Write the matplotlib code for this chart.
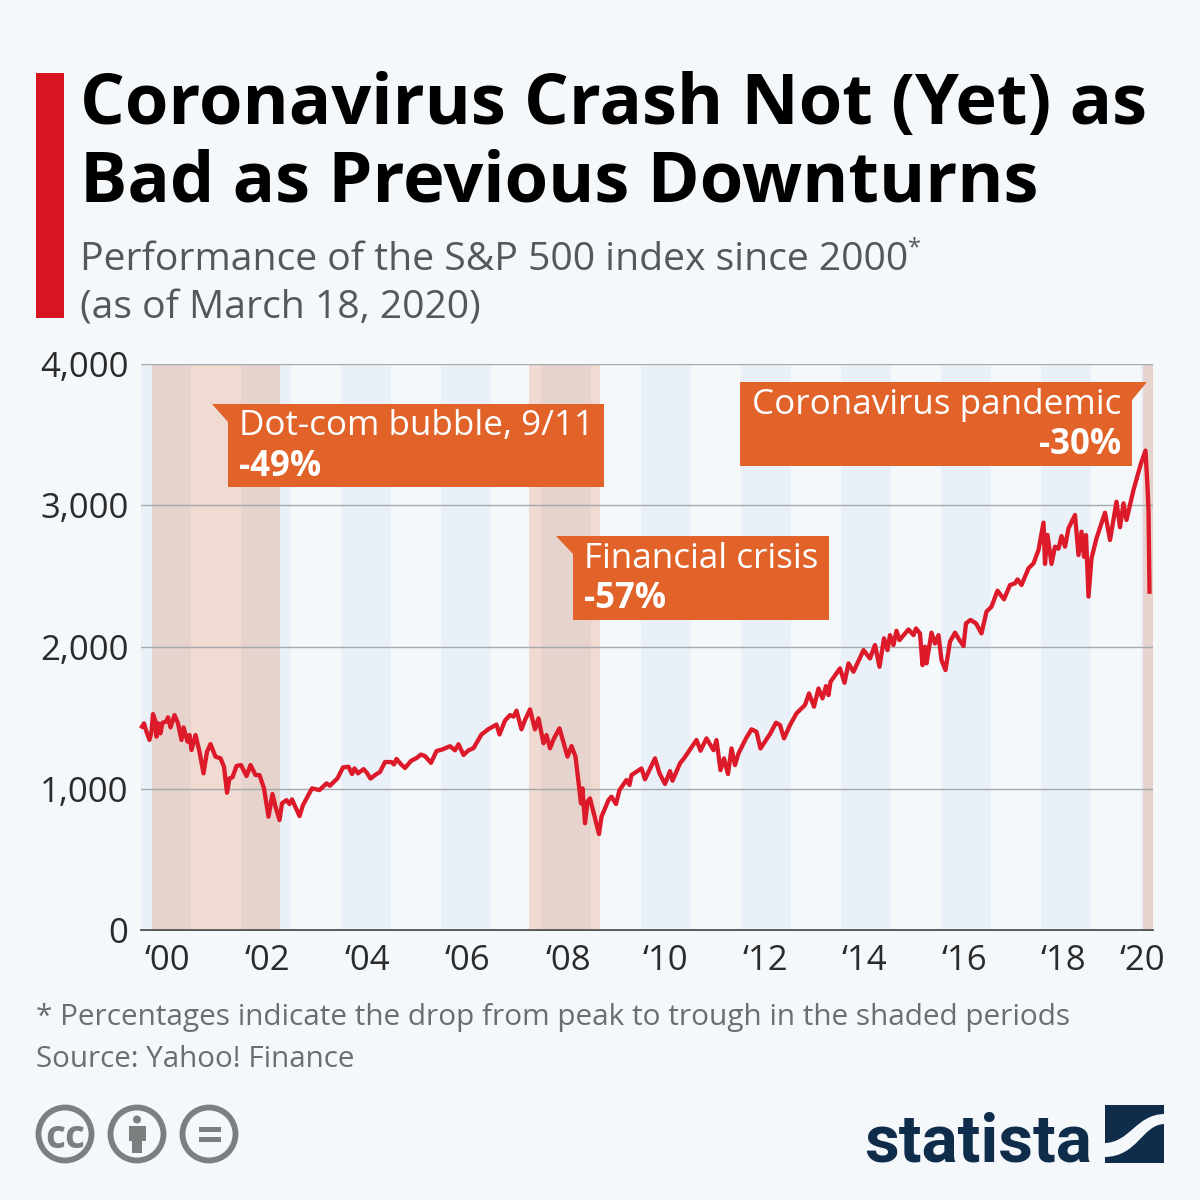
#!/usr/bin/env python3
import matplotlib
matplotlib.use("Agg")
import matplotlib.pyplot as plt
from matplotlib.patches import Circle, PathPatch, Polygon, Rectangle
from matplotlib.path import Path

plt.rcParams["font.family"] = ["Open Sans", "DejaVu Sans"]

BG = "#f4f8fb"
RED = "#d7141f"
LINE_RED = "#dc1a2a"
ORANGE = "#e16329"
BAND = "#e9f0f7"
NAVY = "#0f2d4b"
ICON = "#7a7f80"

# S&P 500
years = [
    2000.02, 2000.06, 2000.11, 2000.17, 2000.21, 2000.24, 2000.29, 2000.31, 2000.35, 2000.39,
    2000.43, 2000.50, 2000.54, 2000.59, 2000.67, 2000.74, 2000.81, 2000.85, 2000.93, 2000.97,
    2001.01, 2001.09, 2001.17, 2001.25, 2001.32, 2001.39, 2001.49, 2001.59, 2001.66, 2001.72,
    2001.77, 2001.83, 2001.91, 2002.00, 2002.11, 2002.19, 2002.29, 2002.37, 2002.46, 2002.55,
    2002.63, 2002.69, 2002.77, 2002.82, 2002.91, 2002.97, 2003.02, 2003.17, 2003.24, 2003.42,
    2003.57, 2003.71, 2003.78, 2003.93, 2004.04, 2004.15, 2004.22, 2004.27, 2004.34, 2004.45,
    2004.52, 2004.59, 2004.68, 2004.78, 2004.88, 2005.01, 2005.06, 2005.11, 2005.19, 2005.28,
    2005.40, 2005.51, 2005.60, 2005.68, 2005.80, 2005.91, 2006.02, 2006.18, 2006.28, 2006.35,
    2006.45, 2006.55, 2006.65, 2006.81, 2006.95, 2007.11, 2007.17, 2007.28, 2007.38, 2007.45,
    2007.51, 2007.61, 2007.68, 2007.78, 2007.88, 2007.95, 2008.05, 2008.11, 2008.18, 2008.26,
    2008.37, 2008.53, 2008.61, 2008.69, 2008.76, 2008.80, 2008.83, 2008.88, 2008.93, 2008.98,
    2009.03, 2009.16, 2009.21, 2009.35, 2009.41, 2009.50, 2009.57, 2009.71, 2009.77, 2009.81,
    2010.01, 2010.08, 2010.28, 2010.37, 2010.48, 2010.58, 2010.63, 2010.78, 2010.86, 2011.11,
    2011.19, 2011.31, 2011.45, 2011.51, 2011.59, 2011.66, 2011.74, 2011.81, 2011.88, 2011.95,
    2012.10, 2012.21, 2012.31, 2012.39, 2012.58, 2012.70, 2012.78, 2012.86, 2012.98, 2013.11,
    2013.28, 2013.36, 2013.46, 2013.55, 2013.63, 2013.70, 2013.75, 2013.79, 2013.98, 2014.07,
    2014.15, 2014.25, 2014.45, 2014.58, 2014.68, 2014.77, 2014.86, 2014.93, 2014.98, 2015.05,
    2015.11, 2015.17, 2015.35, 2015.45, 2015.50, 2015.58, 2015.63, 2015.68, 2015.71, 2015.81,
    2015.88, 2015.95, 2016.01, 2016.09, 2016.18, 2016.28, 2016.37, 2016.45, 2016.50, 2016.59,
    2016.70, 2016.81, 2016.91, 2017.01, 2017.13, 2017.26, 2017.38, 2017.48, 2017.53, 2017.61,
    2017.75, 2017.85, 2017.95, 2018.05, 2018.08, 2018.13, 2018.21, 2018.28, 2018.35, 2018.41,
    2018.48, 2018.55, 2018.68, 2018.75, 2018.81, 2018.86, 2018.90, 2018.95, 2019.01, 2019.11,
    2019.28, 2019.38, 2019.51, 2019.58, 2019.65, 2019.71, 2019.85, 2020.00, 2020.09, 2020.13,
    2020.15, 2020.17,
]
index_values = [
    1437, 1460, 1401, 1343, 1401, 1526, 1472, 1366, 1460, 1390,
    1465, 1472, 1503, 1432, 1519, 1460, 1343, 1432, 1331, 1378,
    1272, 1378, 1260, 1107, 1260, 1314, 1225, 1213, 1154, 970,
    1072, 1079, 1159, 1166, 1088, 1166, 1095, 1095, 1001, 801,
    961, 871, 777, 895, 918, 890, 923, 805, 883, 1001,
    989, 1036, 1020, 1072, 1149, 1154, 1102, 1142, 1107, 1137,
    1110, 1070, 1095, 1117, 1187, 1187, 1170, 1209, 1175, 1145,
    1195, 1215, 1240, 1229, 1181, 1265, 1275, 1299, 1270, 1313,
    1237, 1270, 1285, 1382, 1420, 1452, 1382, 1480, 1519, 1508,
    1550, 1418, 1484, 1559, 1418, 1496, 1319, 1378, 1284, 1354,
    1425, 1225, 1300, 1225, 1013, 895, 1001, 754, 907, 930,
    860, 678, 801, 918, 942, 890, 989, 1060, 1025, 1095,
    1142, 1065, 1213, 1107, 1032, 1123, 1055, 1178, 1213, 1343,
    1267, 1354, 1271, 1342, 1130, 1213, 1102, 1283, 1165, 1248,
    1354, 1418, 1401, 1283, 1385, 1465, 1448, 1354, 1448, 1531,
    1590, 1672, 1578, 1707, 1637, 1724, 1660, 1754, 1849, 1747,
    1884, 1825, 1978, 1919, 2014, 1860, 2061, 1978, 2084, 2014,
    2115, 2049, 2124, 2084, 2131, 2096, 1872, 2002, 1884, 2101,
    2025, 2084, 1908, 1837, 2038, 2101, 2049, 2007, 2167, 2191,
    2167, 2096, 2250, 2285, 2398, 2337, 2438, 2450, 2478, 2438,
    2556, 2591, 2685, 2879, 2587, 2792, 2587, 2709, 2695, 2784,
    2709, 2839, 2933, 2650, 2815, 2638, 2791, 2356, 2627, 2768,
    2949, 2756, 3027, 2846, 3015, 2898, 3110, 3298, 3388, 3133,
    2968, 2391,
]

band_starts = [2000, 2002, 2004, 2006, 2008, 2010, 2012, 2014, 2016, 2018, 2020]
crash_starts = [2000.22, 2007.76, 2020.04]
crash_ends = [2002.78, 2009.18, 2020.24]

y_ticks = [0, 1000, 2000, 3000, 4000]
y_labels = ["0", "1,000", "2,000", "3,000", "4,000"]
x_ticks = [2000.52, 2002.52, 2004.52, 2006.52, 2008.54, 2010.48, 2012.48, 2014.46, 2016.46, 2018.44, 2020.02]
x_labels = ["‘00", "‘02", "‘04", "‘06", "‘08", "‘10", "‘12", "‘14", "‘16", "‘18", "‘20"]

fig = plt.figure(figsize=(12, 12), dpi=100, facecolor=BG)

# overlay in pixel coordinates for header, callouts and footer
page = fig.add_axes([0, 0, 1, 1], zorder=3)
page.set_xlim(0, 1200)
page.set_ylim(1200, 0)
page.axis("off")
page.patch.set_alpha(0)

# chart
ax = fig.add_axes([141 / 1200, 1 - 930 / 1200, (1153 - 141) / 1200, (930 - 364) / 1200], zorder=2)
ax.set_facecolor(BG)
ax.set_xlim(2000, 2020.24)
ax.set_ylim(0, 4000)
for year in band_starts:
    ax.axvspan(year, min(year + 1, 2020.24), color=BAND, lw=0, zorder=1)
for start, end in zip(crash_starts, crash_ends):
    ax.axvspan(start, end, color=ORANGE, alpha=0.2, lw=0, zorder=2)
ax.set_yticks(y_ticks, y_labels)
ax.set_xticks(x_ticks, x_labels)
ax.tick_params(axis="both", length=0, labelsize=25, labelcolor="#2b2b2b")
ax.tick_params(axis="x", pad=10)
ax.tick_params(axis="y", pad=9)
for label in ax.get_xticklabels():
    label.set_clip_on(False)
ax.grid(axis="y", color="#a6a9ab", lw=1.0, zorder=3)
ax.set_axisbelow(False)
for name in ["top", "left", "right"]:
    ax.spines[name].set_visible(False)
ax.spines["bottom"].set_color("#33383c")
ax.spines["bottom"].set_linewidth(1.2)
ax.plot(years, index_values, color=LINE_RED, lw=3.1, solid_joinstyle="round", zorder=4, clip_on=False)

# header
page.add_patch(Rectangle((36, 73), 28, 245, color=RED, lw=0))
page.text(80, 124, "Coronavirus Crash Not (Yet) as", fontsize=50.7, fontweight="bold", color="black", va="baseline")
page.text(80, 202, "Bad as Previous Downturns", fontsize=50.7, fontweight="bold", color="black", va="baseline")
page.text(80, 270, "Performance of the S&P 500 index since 2000", fontsize=28.2, color="#54585a", va="baseline")
page.text(908, 254, "*", fontsize=17, color="#54585a", va="baseline")
page.text(80, 318, "(as of March 18, 2020)", fontsize=28.2, color="#54585a", va="baseline")


def callout(left, right, top, bottom, tip_x, notch_x, notch_y):
    if tip_x < left:
        pts = [(tip_x, top), (right, top), (right, bottom), (left, bottom), (left, notch_y)]
    else:
        pts = [(left, top), (tip_x, top), (notch_x, notch_y), (right, bottom), (left, bottom)]
    page.add_patch(Polygon(pts, closed=True, color=ORANGE, lw=0))


callout(228, 604, 404, 487, 212, 228, 422)
page.text(239, 435, "Dot-com bubble, 9/11", fontsize=25.2, color="white", va="baseline")
page.text(239, 476, "-49%", fontsize=25, fontweight="bold", color="white", va="baseline")

callout(573, 829, 536, 620, 556, 573, 554)
page.text(584, 568, "Financial crisis", fontsize=25.2, color="white", va="baseline")
page.text(584, 608, "-57%", fontsize=25, fontweight="bold", color="white", va="baseline")

callout(740, 1132, 382, 466, 1147, 1132, 400)
page.text(1121, 414, "Coronavirus pandemic", fontsize=25.2, color="white", va="baseline", ha="right")
page.text(1121, 454, "-30%", fontsize=25, fontweight="bold", color="white", va="baseline", ha="right")

# footer
page.text(36, 1025, "* Percentages indicate the drop from peak to trough in the shaded periods",
          fontsize=21.4, color="#6a6e71", va="baseline")
page.text(36, 1067, "Source: Yahoo! Finance", fontsize=21.3, color="#6a6e71", va="baseline")

# licence icons
for cx in [65, 137, 209]:
    page.add_patch(Circle((cx, 1134), 26.5, fc="none", ec=ICON, lw=4.2))
page.text(65, 1133, "cc", fontsize=28, fontweight="bold", color=ICON, ha="center", va="center_baseline")
page.add_patch(Circle((137, 1119.5), 4, color=ICON, lw=0))
page.add_patch(Polygon([(129, 1126), (146, 1126), (146, 1141), (142, 1141), (142, 1153), (132, 1153), (132, 1141), (129, 1141)],
                       closed=True, color=ICON, lw=0))
page.add_patch(Rectangle((199, 1127), 22, 5, color=ICON, lw=0))
page.add_patch(Rectangle((199, 1137), 22, 5, color=ICON, lw=0))

# statista logo
page.text(864, 1162, "statista", fontsize=48.5, fontweight="bold", family=["Roboto", "Liberation Sans"],
          color=NAVY, va="baseline")
page.add_patch(Rectangle((1105, 1105), 59, 58, color=NAVY, lw=0))
swoosh = Path(
    [(1104, 1143), (1130, 1143), (1136, 1114), (1165, 1114), (1165, 1124), (1142, 1124), (1138, 1157), (1104, 1157), (1104, 1143)],
    [Path.MOVETO, Path.CURVE4, Path.CURVE4, Path.CURVE4, Path.LINETO, Path.CURVE4, Path.CURVE4, Path.CURVE4, Path.CLOSEPOLY],
)
page.add_patch(PathPatch(swoosh, fc=BG, ec="none"))

fig.savefig("out.png", dpi=100, facecolor=BG)
